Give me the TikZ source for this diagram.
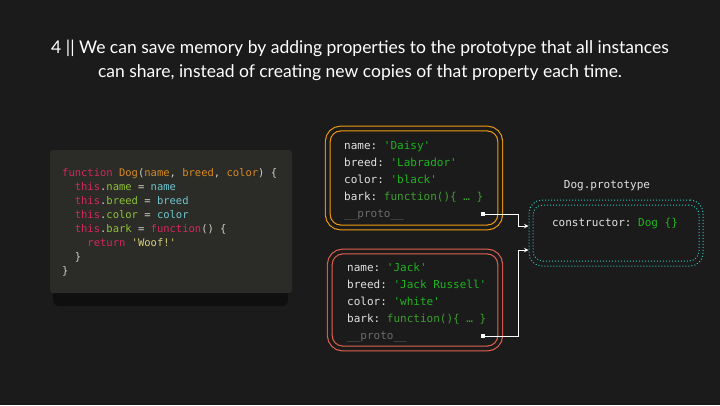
\documentclass[tikz,border=0pt]{standalone}
\usepackage{fontspec}
\setmainfont{Lato}
\setmonofont{DejaVu Sans Mono}
\usetikzlibrary{arrows,positioning}
\definecolor{bg}{HTML}{1B1B1B}
\definecolor{codebg}{HTML}{2B2B27}
\definecolor{shade}{HTML}{0F0F0F}
\definecolor{kw}{HTML}{D4285F}
\definecolor{arg}{HTML}{D98A1F}
\definecolor{prop}{HTML}{8FC23A}
\definecolor{val}{HTML}{6FC6D0}
\definecolor{str}{HTML}{D8CF7A}
\definecolor{plain}{HTML}{CFCFC8}
\definecolor{daisyc}{HTML}{F39C12}
\definecolor{jackc}{HTML}{E8634F}
\definecolor{protoc}{HTML}{2EC4B6}
\definecolor{keyc}{HTML}{E2E2E2}
\definecolor{strc}{HTML}{1DB51D}
\definecolor{fnc}{HTML}{3E9E2E}
\definecolor{grayc}{HTML}{6A6A6A}
\newcommand\ckw[1]{\textcolor{kw}{#1}}
\newcommand\carg[1]{\textcolor{arg}{#1}}
\newcommand\cprop[1]{\textcolor{prop}{#1}}
\newcommand\cval[1]{\textcolor{val}{#1}}
\newcommand\cstr[1]{\textcolor{strc}{#1}}
\newcommand\cfn[1]{\textcolor{fnc}{#1}}
\newcommand\tab{\hphantom{xx}}
\tikzstyle{objbox}=[draw, double=bg, double distance=3.6pt, line width=1.1pt, rounded corners=13pt, inner sep=0pt]
\tikzstyle{protobox}=[draw=protoc, dotted, line width=1pt, rounded corners=13pt, inner sep=0pt]
\tikzstyle{objtxt}=[anchor=north west, align=left, inner sep=0pt, text=keyc, font=\ttfamily\fontsize{11}{17}\selectfont]
\tikzstyle{dot}=[rectangle, fill=white, minimum size=4pt, inner sep=0pt]
\tikzstyle{link}=[->, >=stealth, draw=white, line width=1pt]

\begin{document}
\begin{tikzpicture}[x=1pt, y=-1pt]
    \useasboundingbox[fill=bg] (0,0) rectangle (720,405);
    % heading
    \node[align=center, text=white, font=\fontsize{17.5}{24}\selectfont] (title) at (360,60)
        {4 || We can save memory by adding properties to the prototype that all instances\\
         can share, instead of creating new copies of that property each time.};
    % constructor code
    \node[fill=shade, rounded corners=6pt, minimum width=235pt, minimum height=146pt] (shadow) at (170.5,233) {};
    \node[fill=codebg, rounded corners=3pt, minimum width=242pt, minimum height=143pt] (code) at (171,221.5) {};
    \node[anchor=north west, align=left, inner sep=0pt, text=plain, font=\ttfamily\fontsize{10.5}{13.9}\selectfont] (codetxt) at (62,168.5)
        {\ckw{function} \carg{Dog}(\carg{name}, \carg{breed}, \carg{color}) \{\\
         \tab\ckw{this}.\cprop{name} = \cval{name}\\
         \tab\ckw{this}.\cprop{breed} = \cval{breed}\\
         \tab\ckw{this}.\cprop{color} = \cval{color}\\
         \tab\ckw{this}.\cprop{bark} = \ckw{function}() \{\\
         \tab\tab\ckw{return} \textcolor{str}{'Woof!'}\\
         \tab\}\\
         \}};
    % instances
    \node[objbox, draw=daisyc, minimum width=172.5pt, minimum height=99pt] (daisy) at (414,178) {};
    \node[objtxt] (daisytxt) at (344,141)
        {name: \cstr{'Daisy'}\\
         breed: \cstr{'Labrador'}\\
         color: \cstr{'black'}\\
         bark: \cfn{function()\{ … \}}\\
         \textcolor{grayc}{\_\_proto\_\_}};
    \node[objbox, draw=jackc, minimum width=170.5pt, minimum height=97pt] (jack) at (415,300) {};
    \node[objtxt] (jacktxt) at (347,263)
        {name: \cstr{'Jack'}\\
         breed: \cstr{'Jack Russell'}\\
         color: \cstr{'white'}\\
         bark: \cfn{function()\{ … \}}\\
         \textcolor{grayc}{\_\_proto\_\_}};
    % prototype
    \node[text=keyc, font=\ttfamily\fontsize{11}{13}\selectfont] (protolbl) at (607,186) {Dog.prototype};
    \node[protobox, minimum width=174pt, minimum height=66pt] (proto) at (616,233) {};
    \node[protobox, minimum width=166pt, minimum height=56pt, rounded corners=10pt] (protoin) at (616,233) {};
    \node[text=keyc, font=\ttfamily\fontsize{11}{13}\selectfont] (ctor) at (615,223) {constructor: \cstr{Dog \{\}}};
    % links
    \node[dot] (dproto) at (483,214) {};
    \node[dot] (jproto) at (483,336) {};
    \draw[link] (dproto.center) -- ++(35,0) |- ([yshift=7pt]proto.west);
    \draw[link] (jproto.center) -- ++(35,0) |- ([yshift=-17pt]proto.west);
\end{tikzpicture}
\end{document}
